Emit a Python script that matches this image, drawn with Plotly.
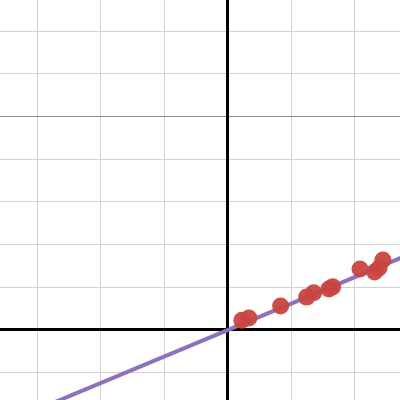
import plotly.graph_objects as go

# scatter points (grid units)
pts_x = [0.22, 0.33, 0.83, 1.24, 1.35, 1.59, 1.65, 2.08, 2.31, 2.38, 2.44]
pts_y = [0.23, 0.28, 0.56, 0.77, 0.87, 0.96, 1.01, 1.43, 1.36, 1.45, 1.64]

# fitted line endpoints
line_x = [-4.0, 3.0]
line_y = [-2.48, 1.86]

fig = go.Figure()
fig.add_trace(go.Scatter(x=line_x, y=line_y, mode="lines",
                         line=dict(color="#8c71bf", width=4), hoverinfo="skip"))
fig.add_trace(go.Scatter(x=pts_x, y=pts_y, mode="markers",
                         marker=dict(color="#c74440", size=17, opacity=0.95, line=dict(width=0))))

axis_common = dict(
    showticklabels=False, ticks="",
    dtick=5, tick0=0, gridcolor="#8a8a8a", gridwidth=1.2,
    minor=dict(dtick=1, tick0=0, gridcolor="#d2d2d2", gridwidth=1, showgrid=True),
    zeroline=True, zerolinecolor="black", zerolinewidth=2.5,
    showline=False, fixedrange=True,
)
fig.update_xaxes(range=[-3.59, 2.71], **axis_common)
fig.update_yaxes(range=[-1.64, 7.73], **axis_common)

fig.update_layout(
    width=400, height=400, margin=dict(l=0, r=0, t=0, b=0),
    plot_bgcolor="white", paper_bgcolor="white", showlegend=False,
)

fig.write_html("out.html", config={"displayModeBar": False},
               post_script="document.body.style.margin='0';")
